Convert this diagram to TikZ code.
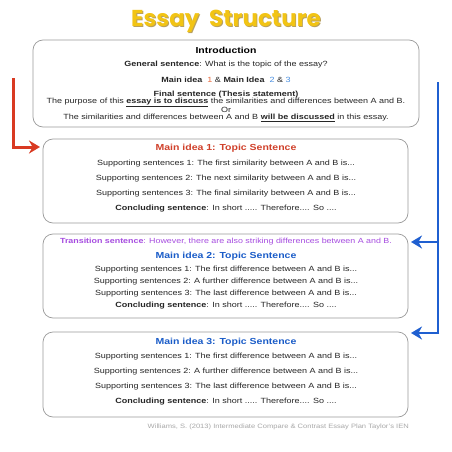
\documentclass[tikz,border=0pt]{standalone}
\usepackage{fontspec}
\setmainfont{Liberation Sans}[FakeStretch=1.2]
\newfontfamily\titlefont{Poppins}
\usetikzlibrary{arrows.meta}
\definecolor{boxgray}{HTML}{9A9A9A}
\definecolor{gold}{HTML}{F2C414}
\definecolor{goldshadow}{HTML}{B8A060}
\definecolor{redarrow}{HTML}{D93A22}
\definecolor{bluearrow}{HTML}{1F5FD0}
\definecolor{titlered}{HTML}{D0402A}
\definecolor{titleblue}{HTML}{1A5CC8}
\definecolor{purp}{HTML}{A64CE0}
\definecolor{numorange}{HTML}{E8683A}
\definecolor{numblue}{HTML}{4A8FE0}
\definecolor{citegray}{HTML}{A8A8A8}
\tikzset{
  box/.style={draw=boxgray, line width=0.7pt, rounded corners=10pt, fill=white},
  txt/.style={inner sep=0pt, font=\fontsize{7.5}{9}\selectfont, text=black!85},
  ttl/.style={inner sep=0pt, font=\bfseries\fontsize{8.75}{10}\selectfont},
  itxt/.style={inner sep=0pt, font=\fontsize{7.5}{9}\selectfont, text=black!85, align=center},
  redline/.style={draw=redarrow, line width=3pt, -{Stealth[length=11pt,width=13pt]}},
  blueline/.style={draw=bluearrow, line width=2.6pt},
  bluearr/.style={draw=bluearrow, line width=2.6pt, -{Stealth[length=11pt,width=13pt]}}
}
\begin{document}
\begin{tikzpicture}[x=1pt,y=-1pt]
\useasboundingbox[fill=white] (0,0) rectangle (452,452);
% title
\node[inner sep=0pt, font=\titlefont\bfseries\fontsize{23}{25}\selectfont, text=goldshadow] (tshadow) at (226.9,22.2) {Essay\ \ Structure};
\node[inner sep=0pt, font=\titlefont\bfseries\fontsize{23}{25}\selectfont, text=gold] (title) at (226,21) {Essay\ \ Structure};
% boxes
\node[box, minimum width=386, minimum height=87] (intro) at (226,83.5) {};
\node[box, minimum width=365, minimum height=84] (b1) at (225.5,181) {};
\node[box, minimum width=365, minimum height=84] (b2) at (225.5,276) {};
\node[box, minimum width=365, minimum height=85] (b3) at (225.5,374.5) {};
% intro texts
\node[ttl, font=\bfseries\fontsize{8.7}{10}\selectfont] (i0) at (226,50) {Introduction};
\node[itxt] (i1) at (226,65) {\textbf{General sentence}: What is the topic of the essay?};
\node[itxt] (i2) at (226,80) {\textbf{Main idea}\ \ {\color{numorange}1} \& \textbf{Main Idea}\ \ {\color{numblue}2} \& {\color{numblue}3}};
\node[itxt] (i3) at (226,94.5) {\textbf{Final sentence (Thesis statement)}};
\node[itxt] (i4) at (226,102.3) {The purpose of this \textbf{\underline{essay is to discuss}} the similarities and differences between A and B.};
\node[itxt] (i5) at (226,109.6) {Or};
\node[itxt] (i6) at (226,117.7) {The similarities and differences between A and B \textbf{\underline{will be discussed}} in this essay.};
% box 1
\node[ttl, text=titlered] (m1) at (226,148) {Main idea 1: Topic Sentence};
\node[txt] (s11) at (226,164) {Supporting sentences 1: The first similarity between A and B is...};
\node[txt] (s12) at (226,179) {Supporting sentences 2: The next similarity between A and B is...};
\node[txt] (s13) at (226,194) {Supporting sentences 3: The final similarity between A and B is...};
\node[txt] (c1) at (226,209) {\textbf{Concluding sentence}: In short ..... Therefore.... So ....};
% box 2
\node[txt, text=purp, font=\fontsize{7.4}{9}\selectfont] (tr) at (226,242) {\textbf{Transition sentence}: However, there are also striking differences between A and B.};
\node[ttl, text=titleblue] (m2) at (226,256) {Main idea 2: Topic Sentence};
\node[txt] (s21) at (226,270) {Supporting sentences 1: The first difference between A and B is...};
\node[txt] (s22) at (226,282) {Supporting sentences 2: A further difference between A and B is...};
\node[txt] (s23) at (226,294) {Supporting sentences 3: The last difference between A and B is...};
\node[txt] (c2) at (226,306) {\textbf{Concluding sentence}: In short ..... Therefore.... So ....};
% box 3
\node[ttl, text=titleblue] (m3) at (226,342) {Main idea 3: Topic Sentence};
\node[txt] (s31) at (226,357) {Supporting sentences 1: The first difference between A and B is...};
\node[txt] (s32) at (226,372) {Supporting sentences 2: A further difference between A and B is...};
\node[txt] (s33) at (226,387) {Supporting sentences 3: The last difference between A and B is...};
\node[txt] (c3) at (226,402) {\textbf{Concluding sentence}: In short ..... Therefore.... So ....};
% citation
\node[inner sep=0pt, font=\fontsize{6.3}{7}\selectfont, text=citegray, anchor=east] (cite) at (409,427) {Williams, S. (2013) Intermediate Compare \& Contrast Essay Plan Taylor's IEN};
% arrows
\coordinate (rtop) at (13,78);
\coordinate (rend) at (40,147);
\draw[redline] (rtop) |- (rend);
\coordinate (btop) at (438,82);
\coordinate (bmid) at (438,242);
\coordinate (bbot) at (438,333);
\coordinate (bend2) at (411,242);
\coordinate (bend3) at (411,333);
\draw[blueline] (btop) -- (bbot);
\draw[bluearr] (bmid) -- (bend2);
\draw[bluearr] ([xshift=1.3pt]bbot) -- (bend3);
\end{tikzpicture}
\end{document}
